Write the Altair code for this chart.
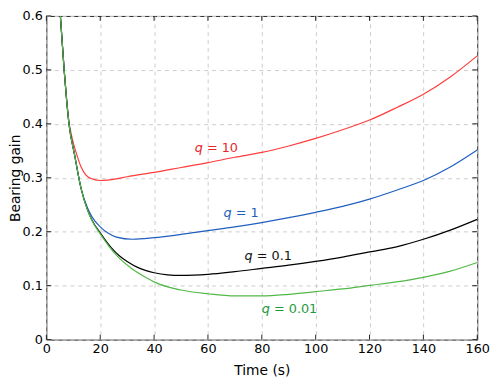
import altair as alt
import pandas as pd

# ---- data ----
t_q10 = [5.2, 6.6, 7.5, 8.4, 9.2, 10.2, 11.1, 12.9, 14.7, 17, 20, 26, 30, 40, 50, 60, 70, 80, 90, 100, 110, 120, 130, 140, 150, 160]
v_q10 = [0.6, 0.5, 0.447, 0.403, 0.382, 0.361, 0.346, 0.320, 0.305, 0.298, 0.295, 0.298, 0.302, 0.310, 0.319, 0.328, 0.338, 0.347, 0.359, 0.373, 0.389, 0.407, 0.430, 0.455, 0.487, 0.526]

t_q1 = [5.2, 6.6, 7.5, 8.4, 10.5, 12.9, 15.3, 17, 20, 23, 26, 32, 40, 50, 60, 70, 80, 90, 100, 110, 120, 130, 140, 150, 160]
v_q1 = [0.6, 0.5, 0.445, 0.4, 0.342, 0.280, 0.244, 0.227, 0.209, 0.197, 0.190, 0.186, 0.189, 0.195, 0.202, 0.209, 0.217, 0.226, 0.236, 0.247, 0.2605, 0.277, 0.295, 0.320, 0.3515]

t_q01 = [5.2, 6.6, 7.5, 8.4, 10.5, 12.9, 15.3, 17, 20, 24, 27.2, 30, 34.3, 40, 45, 50, 60, 70, 80, 90, 100, 110, 120, 130, 140, 150, 160]
v_q01 = [0.6, 0.5, 0.445, 0.4, 0.342, 0.280, 0.240, 0.221, 0.198, 0.171, 0.155, 0.145, 0.133, 0.124, 0.120, 0.119, 0.121, 0.126, 0.132, 0.138, 0.145, 0.153, 0.1625, 0.172, 0.186, 0.203, 0.223]

t_q001 = [5.2, 6.6, 7.5, 8.4, 10.5, 12.9, 15.3, 17, 20, 25.9, 31.9, 37.8, 40, 50, 60, 70, 80, 90, 100, 110, 120, 130, 140, 150, 160]
v_q001 = [0.6, 0.5, 0.445, 0.4, 0.342, 0.280, 0.240, 0.220, 0.196, 0.157, 0.131, 0.113, 0.107, 0.092, 0.085, 0.081, 0.081, 0.084, 0.089, 0.094, 0.1005, 0.107, 0.1155, 0.127, 0.143]

series_names = ["q10", "q1", "q01", "q001"]
line_colors = ["#ff3c3c", "#1f5fbf", "#000000", "#52b947"]
text_colors = ["#e8262a", "#1f5fb8", "#111111", "#1e9a3c"]

# curve label anchors (data coordinates) and texts
lab_t = [55.1, 65.8, 73.6, 80.0]
lab_v = [0.355, 0.235, 0.154, 0.0575]
lab_q = ["q", "q", "q", "q"]
lab_rest = ["= 10", "= 1", "= 0.1", "= 0.01"]

x_ticks = [0, 20, 40, 60, 80, 100, 120, 140, 160]
y_ticks = [0, 0.1, 0.2, 0.3, 0.4, 0.5, 0.6]

# ---- build tables ----
rows = []
for name, ts, vs in zip(series_names, [t_q10, t_q1, t_q01, t_q001], [v_q10, v_q1, v_q01, v_q001]):
    for i, (t, v) in enumerate(zip(ts, vs)):
        rows.append({"series": name, "t": t, "v": v, "i": i})
df = pd.DataFrame(rows)

labels = pd.DataFrame({"t": lab_t, "v": lab_v, "q": lab_q, "rest": lab_rest, "color": text_colors})
xt = pd.DataFrame({"t": x_ticks})
yt = pd.DataFrame({"v": y_ticks})

W, H = 438, 329
FONT = "DejaVu Sans"
FRAME = "#222222"

xscale = alt.Scale(domain=[0, 160], nice=False, zero=False)
yscale = alt.Scale(domain=[0, 0.6], nice=False, zero=False)

xaxis = alt.Axis(values=x_ticks, title="Time (s)", labelPadding=3, labelFlush=False,
                 titleX=W / 2, titleY=35, titleBaseline="alphabetic", titleAlign="center")
yaxis = alt.Axis(values=y_ticks, format=".1~f", title="Bearing gain", labelPadding=4,
                 labelFlush=False, titleAngle=270, titleX=-27, titleY=H / 2,
                 titleBaseline="alphabetic", titleAlign="center")

X = alt.X("t:Q", scale=xscale, axis=xaxis, title="Time (s)")
Y = alt.Y("v:Q", scale=yscale, axis=yaxis, title="Bearing gain")

lines = alt.Chart(df).mark_line(strokeWidth=1.2, interpolate="monotone", clip=True).encode(
    x=X, y=Y,
    color=alt.Color("series:N", scale=alt.Scale(domain=series_names, range=line_colors), legend=None),
    order="i:Q",
)

tick_len = 5
top_ticks = alt.Chart(xt).mark_rule(color=FRAME, strokeWidth=1).encode(
    x=X, y=alt.value(0), y2=alt.value(tick_len))
bot_ticks = alt.Chart(xt).mark_rule(color=FRAME, strokeWidth=1).encode(
    x=X, y=alt.value(H), y2=alt.value(H - tick_len))
left_ticks = alt.Chart(yt).mark_rule(color=FRAME, strokeWidth=1).encode(
    y=Y, x=alt.value(0), x2=alt.value(tick_len))
right_ticks = alt.Chart(yt).mark_rule(color=FRAME, strokeWidth=1).encode(
    y=Y, x=alt.value(W), x2=alt.value(W - tick_len))

q_text = alt.Chart(labels).mark_text(font=FONT, fontSize=13, fontStyle="italic", align="left",
                                     baseline="middle").encode(
    x=X, y=Y, text="q:N", color=alt.Color("color:N", scale=None))
rest_text = alt.Chart(labels).mark_text(font=FONT, fontSize=13, align="left", baseline="middle",
                                        dx=12.4).encode(
    x=X, y=Y, text="rest:N", color=alt.Color("color:N", scale=None))

chart = alt.layer(lines, top_ticks, bot_ticks, left_ticks, right_ticks, q_text, rest_text).properties(
    width=W, height=H,
    autosize=alt.AutoSizeParams(type="none"),
    padding={"left": 39, "top": 5, "right": 15, "bottom": 40},
).configure_view(
    stroke=FRAME, strokeWidth=1
).configure_axis(
    labelFont=FONT, labelFontSize=13, labelColor="#000000",
    titleFont=FONT, titleFontSize=14, titleFontWeight="normal", titleColor="#000000",
    grid=True, gridColor="#cccccc", gridDash=[4, 4], gridWidth=1,
    domain=False, ticks=False, tickSize=0,
)

chart.save("out.html", embed_options={"renderer": "svg", "actions": False})
